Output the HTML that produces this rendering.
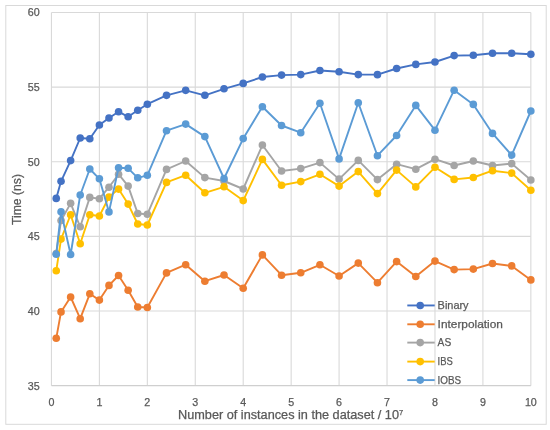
<!DOCTYPE html><html><head><meta charset="utf-8"><style>html,body{margin:0;padding:0;background:#fff;}svg{display:block;}text{font-family:"Liberation Sans",Arial,sans-serif;fill:#595959;stroke:#595959;stroke-width:0.25px;}</style></head><body>
<svg width="550" height="430" viewBox="0 0 550 430">
<rect x="0" y="0" width="550" height="430" fill="#fff"/>
<rect x="5.8" y="5.5" width="540.4" height="418.8" fill="none" stroke="#D9D9D9" stroke-width="1"/>
<line x1="51.45" y1="311.06" x2="530.85" y2="311.06" stroke="#D9D9D9" stroke-width="1.1"/>
<line x1="51.45" y1="236.42" x2="530.85" y2="236.42" stroke="#D9D9D9" stroke-width="1.1"/>
<line x1="51.45" y1="161.78" x2="530.85" y2="161.78" stroke="#D9D9D9" stroke-width="1.1"/>
<line x1="51.45" y1="87.14" x2="530.85" y2="87.14" stroke="#D9D9D9" stroke-width="1.1"/>
<line x1="51.45" y1="12.50" x2="530.85" y2="12.50" stroke="#D9D9D9" stroke-width="1.1"/>
<line x1="51.45" y1="12.50" x2="51.45" y2="385.70" stroke="#D9D9D9" stroke-width="1.1"/>
<line x1="99.39" y1="12.50" x2="99.39" y2="385.70" stroke="#D9D9D9" stroke-width="1.1"/>
<line x1="147.33" y1="12.50" x2="147.33" y2="385.70" stroke="#D9D9D9" stroke-width="1.1"/>
<line x1="195.27" y1="12.50" x2="195.27" y2="385.70" stroke="#D9D9D9" stroke-width="1.1"/>
<line x1="243.21" y1="12.50" x2="243.21" y2="385.70" stroke="#D9D9D9" stroke-width="1.1"/>
<line x1="291.15" y1="12.50" x2="291.15" y2="385.70" stroke="#D9D9D9" stroke-width="1.1"/>
<line x1="339.09" y1="12.50" x2="339.09" y2="385.70" stroke="#D9D9D9" stroke-width="1.1"/>
<line x1="387.03" y1="12.50" x2="387.03" y2="385.70" stroke="#D9D9D9" stroke-width="1.1"/>
<line x1="434.97" y1="12.50" x2="434.97" y2="385.70" stroke="#D9D9D9" stroke-width="1.1"/>
<line x1="482.91" y1="12.50" x2="482.91" y2="385.70" stroke="#D9D9D9" stroke-width="1.1"/>
<line x1="530.85" y1="12.50" x2="530.85" y2="385.70" stroke="#D9D9D9" stroke-width="1.1"/>
<line x1="51.45" y1="385.70" x2="530.85" y2="385.70" stroke="#CFCFCF" stroke-width="1.3"/>
<text x="39.6" y="389.55" font-size="10.7" text-anchor="end">35</text>
<text x="39.6" y="314.91" font-size="10.7" text-anchor="end">40</text>
<text x="39.6" y="240.27" font-size="10.7" text-anchor="end">45</text>
<text x="39.6" y="165.63" font-size="10.7" text-anchor="end">50</text>
<text x="39.6" y="90.99" font-size="10.7" text-anchor="end">55</text>
<text x="39.6" y="16.35" font-size="10.7" text-anchor="end">60</text>
<text x="51.45" y="405.7" font-size="10.7" text-anchor="middle">0</text>
<text x="99.39" y="405.7" font-size="10.7" text-anchor="middle">1</text>
<text x="147.33" y="405.7" font-size="10.7" text-anchor="middle">2</text>
<text x="195.27" y="405.7" font-size="10.7" text-anchor="middle">3</text>
<text x="243.21" y="405.7" font-size="10.7" text-anchor="middle">4</text>
<text x="291.15" y="405.7" font-size="10.7" text-anchor="middle">5</text>
<text x="339.09" y="405.7" font-size="10.7" text-anchor="middle">6</text>
<text x="387.03" y="405.7" font-size="10.7" text-anchor="middle">7</text>
<text x="434.97" y="405.7" font-size="10.7" text-anchor="middle">8</text>
<text x="482.91" y="405.7" font-size="10.7" text-anchor="middle">9</text>
<text x="530.85" y="405.7" font-size="10.7" text-anchor="middle">10</text>
<text transform="translate(21.0,199.5) rotate(-90)" font-size="11.9" text-anchor="middle" textLength="51" lengthAdjust="spacingAndGlyphs">Time (ns)</text>
<text x="178.0" y="419.1" font-size="12.2" textLength="221" lengthAdjust="spacingAndGlyphs">Number of instances in the dataset / 10</text>
<text x="399.0" y="414.6" font-size="7.6">7</text>
<polyline points="56.24,198.40 61.04,181.30 70.63,160.60 80.21,138.00 89.80,138.70 99.39,125.00 108.98,118.00 118.57,111.70 128.15,116.80 137.74,110.30 147.33,104.20 166.51,95.35 185.68,90.35 204.86,95.30 224.03,88.80 243.21,83.40 262.39,77.00 281.56,75.10 300.74,74.60 319.91,70.50 339.09,71.80 358.27,74.60 377.44,74.65 396.62,68.50 415.79,64.40 434.97,62.00 454.15,55.60 473.32,55.30 492.50,53.30 511.67,53.30 530.85,54.20" fill="none" stroke="#4472C4" stroke-width="1.90" stroke-linejoin="round" stroke-linecap="round"/>
<circle cx="56.24" cy="198.40" r="3.80" fill="#4472C4"/>
<circle cx="61.04" cy="181.30" r="3.80" fill="#4472C4"/>
<circle cx="70.63" cy="160.60" r="3.80" fill="#4472C4"/>
<circle cx="80.21" cy="138.00" r="3.80" fill="#4472C4"/>
<circle cx="89.80" cy="138.70" r="3.80" fill="#4472C4"/>
<circle cx="99.39" cy="125.00" r="3.80" fill="#4472C4"/>
<circle cx="108.98" cy="118.00" r="3.80" fill="#4472C4"/>
<circle cx="118.57" cy="111.70" r="3.80" fill="#4472C4"/>
<circle cx="128.15" cy="116.80" r="3.80" fill="#4472C4"/>
<circle cx="137.74" cy="110.30" r="3.80" fill="#4472C4"/>
<circle cx="147.33" cy="104.20" r="3.80" fill="#4472C4"/>
<circle cx="166.51" cy="95.35" r="3.80" fill="#4472C4"/>
<circle cx="185.68" cy="90.35" r="3.80" fill="#4472C4"/>
<circle cx="204.86" cy="95.30" r="3.80" fill="#4472C4"/>
<circle cx="224.03" cy="88.80" r="3.80" fill="#4472C4"/>
<circle cx="243.21" cy="83.40" r="3.80" fill="#4472C4"/>
<circle cx="262.39" cy="77.00" r="3.80" fill="#4472C4"/>
<circle cx="281.56" cy="75.10" r="3.80" fill="#4472C4"/>
<circle cx="300.74" cy="74.60" r="3.80" fill="#4472C4"/>
<circle cx="319.91" cy="70.50" r="3.80" fill="#4472C4"/>
<circle cx="339.09" cy="71.80" r="3.80" fill="#4472C4"/>
<circle cx="358.27" cy="74.60" r="3.80" fill="#4472C4"/>
<circle cx="377.44" cy="74.65" r="3.80" fill="#4472C4"/>
<circle cx="396.62" cy="68.50" r="3.80" fill="#4472C4"/>
<circle cx="415.79" cy="64.40" r="3.80" fill="#4472C4"/>
<circle cx="434.97" cy="62.00" r="3.80" fill="#4472C4"/>
<circle cx="454.15" cy="55.60" r="3.80" fill="#4472C4"/>
<circle cx="473.32" cy="55.30" r="3.80" fill="#4472C4"/>
<circle cx="492.50" cy="53.30" r="3.80" fill="#4472C4"/>
<circle cx="511.67" cy="53.30" r="3.80" fill="#4472C4"/>
<circle cx="530.85" cy="54.20" r="3.80" fill="#4472C4"/>
<polyline points="56.24,338.30 61.04,311.90 70.63,297.00 80.21,318.70 89.80,293.80 99.39,300.10 108.98,285.40 118.57,275.50 128.15,290.20 137.74,307.00 147.33,307.50 166.51,272.90 185.68,264.70 204.86,281.20 224.03,275.00 243.21,288.20 262.39,254.90 281.56,275.20 300.74,272.80 319.91,264.80 339.09,276.00 358.27,263.10 377.44,282.70 396.62,261.60 415.79,276.50 434.97,261.10 454.15,269.60 473.32,269.10 492.50,263.50 511.67,265.90 530.85,279.90" fill="none" stroke="#ED7D31" stroke-width="1.90" stroke-linejoin="round" stroke-linecap="round"/>
<circle cx="56.24" cy="338.30" r="3.80" fill="#ED7D31"/>
<circle cx="61.04" cy="311.90" r="3.80" fill="#ED7D31"/>
<circle cx="70.63" cy="297.00" r="3.80" fill="#ED7D31"/>
<circle cx="80.21" cy="318.70" r="3.80" fill="#ED7D31"/>
<circle cx="89.80" cy="293.80" r="3.80" fill="#ED7D31"/>
<circle cx="99.39" cy="300.10" r="3.80" fill="#ED7D31"/>
<circle cx="108.98" cy="285.40" r="3.80" fill="#ED7D31"/>
<circle cx="118.57" cy="275.50" r="3.80" fill="#ED7D31"/>
<circle cx="128.15" cy="290.20" r="3.80" fill="#ED7D31"/>
<circle cx="137.74" cy="307.00" r="3.80" fill="#ED7D31"/>
<circle cx="147.33" cy="307.50" r="3.80" fill="#ED7D31"/>
<circle cx="166.51" cy="272.90" r="3.80" fill="#ED7D31"/>
<circle cx="185.68" cy="264.70" r="3.80" fill="#ED7D31"/>
<circle cx="204.86" cy="281.20" r="3.80" fill="#ED7D31"/>
<circle cx="224.03" cy="275.00" r="3.80" fill="#ED7D31"/>
<circle cx="243.21" cy="288.20" r="3.80" fill="#ED7D31"/>
<circle cx="262.39" cy="254.90" r="3.80" fill="#ED7D31"/>
<circle cx="281.56" cy="275.20" r="3.80" fill="#ED7D31"/>
<circle cx="300.74" cy="272.80" r="3.80" fill="#ED7D31"/>
<circle cx="319.91" cy="264.80" r="3.80" fill="#ED7D31"/>
<circle cx="339.09" cy="276.00" r="3.80" fill="#ED7D31"/>
<circle cx="358.27" cy="263.10" r="3.80" fill="#ED7D31"/>
<circle cx="377.44" cy="282.70" r="3.80" fill="#ED7D31"/>
<circle cx="396.62" cy="261.60" r="3.80" fill="#ED7D31"/>
<circle cx="415.79" cy="276.50" r="3.80" fill="#ED7D31"/>
<circle cx="434.97" cy="261.10" r="3.80" fill="#ED7D31"/>
<circle cx="454.15" cy="269.60" r="3.80" fill="#ED7D31"/>
<circle cx="473.32" cy="269.10" r="3.80" fill="#ED7D31"/>
<circle cx="492.50" cy="263.50" r="3.80" fill="#ED7D31"/>
<circle cx="511.67" cy="265.90" r="3.80" fill="#ED7D31"/>
<circle cx="530.85" cy="279.90" r="3.80" fill="#ED7D31"/>
<polyline points="56.24,253.50 61.04,220.50 70.63,203.35 80.21,226.80 89.80,197.40 99.39,198.70 108.98,187.20 118.57,174.20 128.15,186.10 137.74,213.55 147.33,214.30 166.51,169.40 185.68,161.00 204.86,177.60 224.03,181.00 243.21,189.00 262.39,145.05 281.56,171.00 300.74,168.60 319.91,162.60 339.09,179.10 358.27,160.40 377.44,179.60 396.62,164.20 415.79,169.20 434.97,159.20 454.15,165.50 473.32,161.00 492.50,165.50 511.67,163.60 530.85,180.00" fill="none" stroke="#A5A5A5" stroke-width="1.90" stroke-linejoin="round" stroke-linecap="round"/>
<circle cx="56.24" cy="253.50" r="3.80" fill="#A5A5A5"/>
<circle cx="61.04" cy="220.50" r="3.80" fill="#A5A5A5"/>
<circle cx="70.63" cy="203.35" r="3.80" fill="#A5A5A5"/>
<circle cx="80.21" cy="226.80" r="3.80" fill="#A5A5A5"/>
<circle cx="89.80" cy="197.40" r="3.80" fill="#A5A5A5"/>
<circle cx="99.39" cy="198.70" r="3.80" fill="#A5A5A5"/>
<circle cx="108.98" cy="187.20" r="3.80" fill="#A5A5A5"/>
<circle cx="118.57" cy="174.20" r="3.80" fill="#A5A5A5"/>
<circle cx="128.15" cy="186.10" r="3.80" fill="#A5A5A5"/>
<circle cx="137.74" cy="213.55" r="3.80" fill="#A5A5A5"/>
<circle cx="147.33" cy="214.30" r="3.80" fill="#A5A5A5"/>
<circle cx="166.51" cy="169.40" r="3.80" fill="#A5A5A5"/>
<circle cx="185.68" cy="161.00" r="3.80" fill="#A5A5A5"/>
<circle cx="204.86" cy="177.60" r="3.80" fill="#A5A5A5"/>
<circle cx="224.03" cy="181.00" r="3.80" fill="#A5A5A5"/>
<circle cx="243.21" cy="189.00" r="3.80" fill="#A5A5A5"/>
<circle cx="262.39" cy="145.05" r="3.80" fill="#A5A5A5"/>
<circle cx="281.56" cy="171.00" r="3.80" fill="#A5A5A5"/>
<circle cx="300.74" cy="168.60" r="3.80" fill="#A5A5A5"/>
<circle cx="319.91" cy="162.60" r="3.80" fill="#A5A5A5"/>
<circle cx="339.09" cy="179.10" r="3.80" fill="#A5A5A5"/>
<circle cx="358.27" cy="160.40" r="3.80" fill="#A5A5A5"/>
<circle cx="377.44" cy="179.60" r="3.80" fill="#A5A5A5"/>
<circle cx="396.62" cy="164.20" r="3.80" fill="#A5A5A5"/>
<circle cx="415.79" cy="169.20" r="3.80" fill="#A5A5A5"/>
<circle cx="434.97" cy="159.20" r="3.80" fill="#A5A5A5"/>
<circle cx="454.15" cy="165.50" r="3.80" fill="#A5A5A5"/>
<circle cx="473.32" cy="161.00" r="3.80" fill="#A5A5A5"/>
<circle cx="492.50" cy="165.50" r="3.80" fill="#A5A5A5"/>
<circle cx="511.67" cy="163.60" r="3.80" fill="#A5A5A5"/>
<circle cx="530.85" cy="180.00" r="3.80" fill="#A5A5A5"/>
<polyline points="56.24,270.80 61.04,239.10 70.63,214.75 80.21,243.70 89.80,214.80 99.39,216.00 108.98,197.10 118.57,189.10 128.15,204.10 137.74,224.00 147.33,225.00 166.51,182.40 185.68,175.20 204.86,192.80 224.03,186.80 243.21,200.60 262.39,159.40 281.56,185.30 300.74,181.60 319.91,174.30 339.09,186.10 358.27,171.60 377.44,193.60 396.62,170.10 415.79,186.90 434.97,167.30 454.15,179.40 473.32,177.50 492.50,170.70 511.67,173.10 530.85,190.20" fill="none" stroke="#FFC000" stroke-width="1.90" stroke-linejoin="round" stroke-linecap="round"/>
<circle cx="56.24" cy="270.80" r="3.80" fill="#FFC000"/>
<circle cx="61.04" cy="239.10" r="3.80" fill="#FFC000"/>
<circle cx="70.63" cy="214.75" r="3.80" fill="#FFC000"/>
<circle cx="80.21" cy="243.70" r="3.80" fill="#FFC000"/>
<circle cx="89.80" cy="214.80" r="3.80" fill="#FFC000"/>
<circle cx="99.39" cy="216.00" r="3.80" fill="#FFC000"/>
<circle cx="108.98" cy="197.10" r="3.80" fill="#FFC000"/>
<circle cx="118.57" cy="189.10" r="3.80" fill="#FFC000"/>
<circle cx="128.15" cy="204.10" r="3.80" fill="#FFC000"/>
<circle cx="137.74" cy="224.00" r="3.80" fill="#FFC000"/>
<circle cx="147.33" cy="225.00" r="3.80" fill="#FFC000"/>
<circle cx="166.51" cy="182.40" r="3.80" fill="#FFC000"/>
<circle cx="185.68" cy="175.20" r="3.80" fill="#FFC000"/>
<circle cx="204.86" cy="192.80" r="3.80" fill="#FFC000"/>
<circle cx="224.03" cy="186.80" r="3.80" fill="#FFC000"/>
<circle cx="243.21" cy="200.60" r="3.80" fill="#FFC000"/>
<circle cx="262.39" cy="159.40" r="3.80" fill="#FFC000"/>
<circle cx="281.56" cy="185.30" r="3.80" fill="#FFC000"/>
<circle cx="300.74" cy="181.60" r="3.80" fill="#FFC000"/>
<circle cx="319.91" cy="174.30" r="3.80" fill="#FFC000"/>
<circle cx="339.09" cy="186.10" r="3.80" fill="#FFC000"/>
<circle cx="358.27" cy="171.60" r="3.80" fill="#FFC000"/>
<circle cx="377.44" cy="193.60" r="3.80" fill="#FFC000"/>
<circle cx="396.62" cy="170.10" r="3.80" fill="#FFC000"/>
<circle cx="415.79" cy="186.90" r="3.80" fill="#FFC000"/>
<circle cx="434.97" cy="167.30" r="3.80" fill="#FFC000"/>
<circle cx="454.15" cy="179.40" r="3.80" fill="#FFC000"/>
<circle cx="473.32" cy="177.50" r="3.80" fill="#FFC000"/>
<circle cx="492.50" cy="170.70" r="3.80" fill="#FFC000"/>
<circle cx="511.67" cy="173.10" r="3.80" fill="#FFC000"/>
<circle cx="530.85" cy="190.20" r="3.80" fill="#FFC000"/>
<polyline points="56.24,254.30 61.04,211.70 70.63,254.50 80.21,195.00 89.80,169.00 99.39,178.80 108.98,211.90 118.57,167.70 128.15,168.30 137.74,177.80 147.33,175.30 166.51,130.70 185.68,124.10 204.86,136.60 224.03,178.50 243.21,138.60 262.39,106.70 281.56,125.50 300.74,132.70 319.91,103.20 339.09,158.90 358.27,102.70 377.44,155.70 396.62,135.50 415.79,105.40 434.97,130.20 454.15,90.20 473.32,104.40 492.50,133.40 511.67,155.10 530.85,111.00" fill="none" stroke="#5B9BD5" stroke-width="1.90" stroke-linejoin="round" stroke-linecap="round"/>
<circle cx="56.24" cy="254.30" r="3.80" fill="#5B9BD5"/>
<circle cx="61.04" cy="211.70" r="3.80" fill="#5B9BD5"/>
<circle cx="70.63" cy="254.50" r="3.80" fill="#5B9BD5"/>
<circle cx="80.21" cy="195.00" r="3.80" fill="#5B9BD5"/>
<circle cx="89.80" cy="169.00" r="3.80" fill="#5B9BD5"/>
<circle cx="99.39" cy="178.80" r="3.80" fill="#5B9BD5"/>
<circle cx="108.98" cy="211.90" r="3.80" fill="#5B9BD5"/>
<circle cx="118.57" cy="167.70" r="3.80" fill="#5B9BD5"/>
<circle cx="128.15" cy="168.30" r="3.80" fill="#5B9BD5"/>
<circle cx="137.74" cy="177.80" r="3.80" fill="#5B9BD5"/>
<circle cx="147.33" cy="175.30" r="3.80" fill="#5B9BD5"/>
<circle cx="166.51" cy="130.70" r="3.80" fill="#5B9BD5"/>
<circle cx="185.68" cy="124.10" r="3.80" fill="#5B9BD5"/>
<circle cx="204.86" cy="136.60" r="3.80" fill="#5B9BD5"/>
<circle cx="224.03" cy="178.50" r="3.80" fill="#5B9BD5"/>
<circle cx="243.21" cy="138.60" r="3.80" fill="#5B9BD5"/>
<circle cx="262.39" cy="106.70" r="3.80" fill="#5B9BD5"/>
<circle cx="281.56" cy="125.50" r="3.80" fill="#5B9BD5"/>
<circle cx="300.74" cy="132.70" r="3.80" fill="#5B9BD5"/>
<circle cx="319.91" cy="103.20" r="3.80" fill="#5B9BD5"/>
<circle cx="339.09" cy="158.90" r="3.80" fill="#5B9BD5"/>
<circle cx="358.27" cy="102.70" r="3.80" fill="#5B9BD5"/>
<circle cx="377.44" cy="155.70" r="3.80" fill="#5B9BD5"/>
<circle cx="396.62" cy="135.50" r="3.80" fill="#5B9BD5"/>
<circle cx="415.79" cy="105.40" r="3.80" fill="#5B9BD5"/>
<circle cx="434.97" cy="130.20" r="3.80" fill="#5B9BD5"/>
<circle cx="454.15" cy="90.20" r="3.80" fill="#5B9BD5"/>
<circle cx="473.32" cy="104.40" r="3.80" fill="#5B9BD5"/>
<circle cx="492.50" cy="133.40" r="3.80" fill="#5B9BD5"/>
<circle cx="511.67" cy="155.10" r="3.80" fill="#5B9BD5"/>
<circle cx="530.85" cy="111.00" r="3.80" fill="#5B9BD5"/>
<line x1="407.3" y1="305.45" x2="434.7" y2="305.45" stroke="#4472C4" stroke-width="1.90"/>
<circle cx="420.2" cy="305.45" r="3.80" fill="#4472C4"/>
<text x="437.6" y="309.05" font-size="11" textLength="31.0" lengthAdjust="spacingAndGlyphs">Binary</text>
<line x1="407.3" y1="324.30" x2="434.7" y2="324.30" stroke="#ED7D31" stroke-width="1.90"/>
<circle cx="420.2" cy="324.30" r="3.80" fill="#ED7D31"/>
<text x="437.6" y="327.90" font-size="11" textLength="65.3" lengthAdjust="spacingAndGlyphs">Interpolation</text>
<line x1="407.3" y1="342.60" x2="434.7" y2="342.60" stroke="#A5A5A5" stroke-width="1.90"/>
<circle cx="420.2" cy="342.60" r="3.80" fill="#A5A5A5"/>
<text x="437.6" y="346.20" font-size="11" textLength="13.6" lengthAdjust="spacingAndGlyphs">AS</text>
<line x1="407.3" y1="361.60" x2="434.7" y2="361.60" stroke="#FFC000" stroke-width="1.90"/>
<circle cx="420.2" cy="361.60" r="3.80" fill="#FFC000"/>
<text x="437.6" y="365.20" font-size="11" textLength="15.2" lengthAdjust="spacingAndGlyphs">IBS</text>
<line x1="407.3" y1="380.10" x2="434.7" y2="380.10" stroke="#5B9BD5" stroke-width="1.90"/>
<circle cx="420.2" cy="380.10" r="3.80" fill="#5B9BD5"/>
<text x="437.6" y="383.70" font-size="11" textLength="23.6" lengthAdjust="spacingAndGlyphs">IOBS</text>
</svg></body></html>
